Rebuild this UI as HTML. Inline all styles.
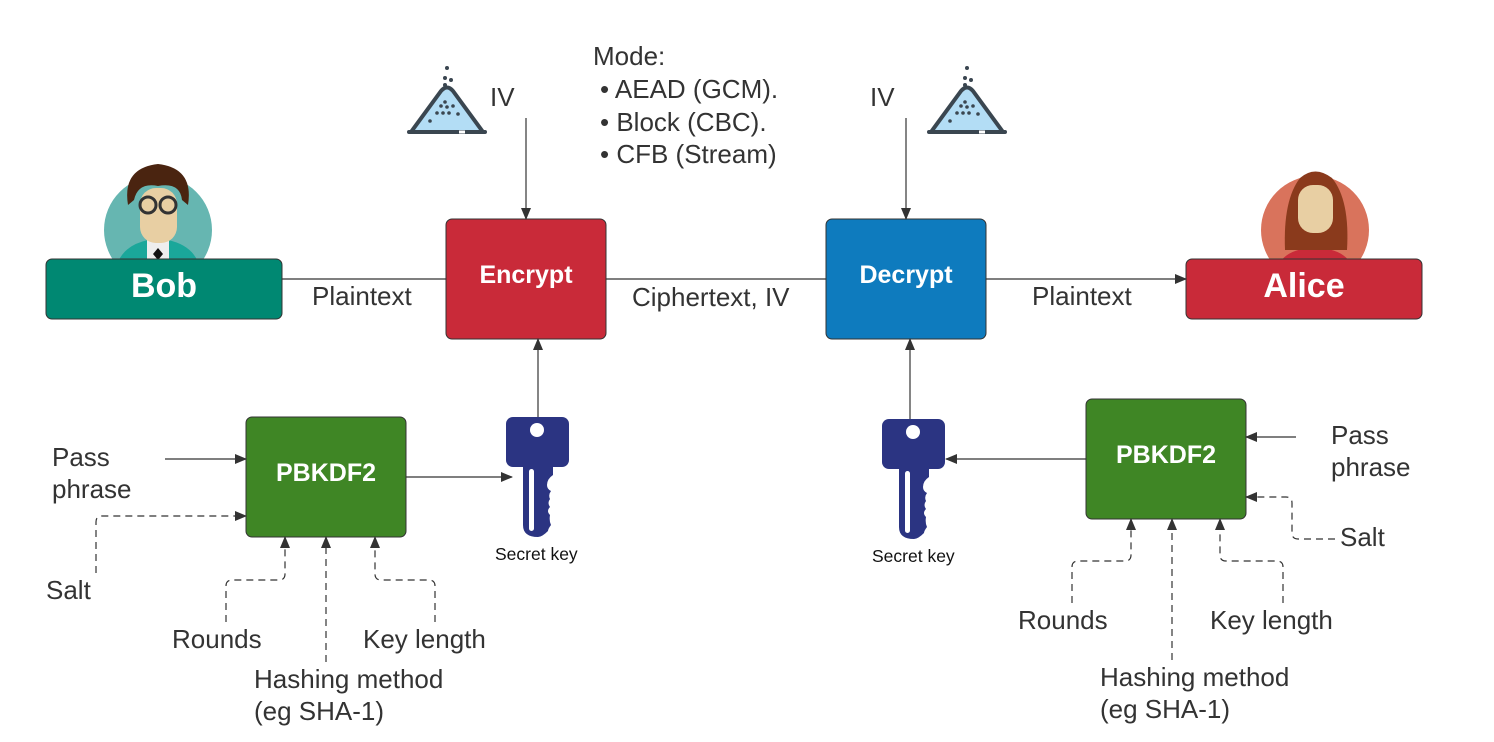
<!DOCTYPE html>
<html><head><meta charset="utf-8"><style>
html,body{margin:0;padding:0;background:#fff;}
svg{display:block;font-family:"Liberation Sans",sans-serif;}
</style></head><body>
<svg width="1494" height="742" viewBox="0 0 1494 742" xmlns="http://www.w3.org/2000/svg">
<defs>
<marker id="ah" markerWidth="12" markerHeight="10" refX="11" refY="5" orient="auto" markerUnits="userSpaceOnUse">
<path d="M0,0 L12,5 L0,10 z" fill="#333"/></marker>
<g id="key">
<rect x="0" y="0" width="63" height="50" rx="7" fill="#2B3482"/>
<path d="M17,46 H47 V58 Q41,62 41,68 Q41,72 45,74 Q42,78 44,82 Q41,86 44,90 Q40,94 44,98 Q43,104 45,108 Q42,112 42,114 Q36,120 32,120 Q17,120 17,108 Z" fill="#2B3482"/>
<circle cx="31" cy="13" r="7" fill="#fff"/>
<rect x="23" y="52" width="5" height="62" rx="2.5" fill="#fff"/>
</g>
<g id="pile">
<path d="M4,66 L34,25 Q40,18 46,25 L76,66" fill="#B3DDF5" stroke="#3A4650" stroke-width="4" stroke-linejoin="round"/>
<line x1="2" y1="66" x2="78" y2="66" stroke="#3A4650" stroke-width="4" stroke-linecap="round"/>
<line x1="52" y1="66" x2="58" y2="66" stroke="#fff" stroke-width="3"/>
<g fill="#3A4650"><circle cx="40" cy="2" r="2"/><circle cx="38" cy="12" r="2"/><circle cx="44" cy="14" r="2"/><circle cx="38" cy="19" r="2"/>
<circle cx="38" cy="36" r="1.8"/><circle cx="34" cy="40" r="1.8"/><circle cx="40" cy="41" r="1.8"/><circle cx="46" cy="40" r="1.8"/>
<circle cx="30" cy="47" r="1.8"/><circle cx="36" cy="47" r="1.8"/><circle cx="42" cy="47" r="1.8"/><circle cx="51" cy="48" r="1.8"/><circle cx="23" cy="55" r="1.8"/></g>
</g>
</defs>

<!-- Bob avatar -->
<circle cx="158" cy="230" r="54" fill="#66B6B1"/>
<path d="M118,262 Q125,245 148,240 L168,240 Q191,245 198,262 Z" fill="#1AA79A"/>
<rect x="147" y="238" width="22" height="24" fill="#EEE"/>
<path d="M158,248 l5,6 l-5,6 l-5,-6 z" fill="#111"/>
<rect x="140" y="188" width="37" height="55" rx="16" fill="#E8CFA3"/>
<path d="M128,205 Q122,168 158,164 Q194,168 188,205 L182,200 Q180,182 158,186 Q138,182 134,200 Z" fill="#4A2410"/>
<circle cx="148" cy="205" r="8" fill="none" stroke="#333" stroke-width="3"/>
<circle cx="168" cy="205" r="8" fill="none" stroke="#333" stroke-width="3"/>
<!-- Alice avatar -->
<circle cx="1315" cy="230" r="54" fill="#D9735C"/>
<path d="M1280,262 Q1290,248 1315,248 Q1340,248 1350,262 Z" fill="#C92A39"/>
<path d="M1285,250 Q1283,200 1300,178 Q1315,165 1332,178 Q1350,200 1347,250 Z" fill="#8A3A1C"/>
<rect x="1298" y="185" width="35" height="48" rx="15" fill="#E8CFA3"/>

<rect x="46" y="259" width="236" height="60" rx="6" fill="#008872" stroke="#333" stroke-width="1"/>
<text x="164" y="297" font-size="34" font-weight="bold" fill="#fff" text-anchor="middle">Bob</text>
<rect x="1186" y="259" width="236" height="60" rx="6" fill="#C92A39" stroke="#333" stroke-width="1"/>
<text x="1304" y="297" font-size="34" font-weight="bold" fill="#fff" text-anchor="middle">Alice</text>

<rect x="446" y="219" width="160" height="120" rx="6" fill="#C92A39" stroke="#333" stroke-width="1"/>
<text x="526" y="283" font-size="25" font-weight="bold" fill="#fff" text-anchor="middle">Encrypt</text>
<rect x="826" y="219" width="160" height="120" rx="6" fill="#0E7BBE" stroke="#333" stroke-width="1"/>
<text x="906" y="283" font-size="25" font-weight="bold" fill="#fff" text-anchor="middle">Decrypt</text>

<rect x="246" y="417" width="160" height="120" rx="6" fill="#3F8625" stroke="#333" stroke-width="1"/>
<text x="326" y="481" font-size="25" font-weight="bold" fill="#fff" text-anchor="middle">PBKDF2</text>
<rect x="1086" y="399" width="160" height="120" rx="6" fill="#3F8625" stroke="#333" stroke-width="1"/>
<text x="1166" y="463" font-size="25" font-weight="bold" fill="#fff" text-anchor="middle">PBKDF2</text>

<g stroke="#333" stroke-width="1.2" fill="none">
<line x1="282" y1="279" x2="446" y2="279"/>
<line x1="606" y1="279" x2="826" y2="279"/>
<line x1="986" y1="279" x2="1186" y2="279" marker-end="url(#ah)"/>
<line x1="526" y1="118" x2="526" y2="219" marker-end="url(#ah)"/>
<line x1="906" y1="118" x2="906" y2="219" marker-end="url(#ah)"/>
<line x1="538" y1="417" x2="538" y2="339" marker-end="url(#ah)"/>
<line x1="910" y1="419" x2="910" y2="339" marker-end="url(#ah)"/>
<line x1="406" y1="477" x2="512" y2="477" marker-end="url(#ah)"/>
<line x1="1086" y1="459" x2="946" y2="459" marker-end="url(#ah)"/>
<line x1="165" y1="459" x2="246" y2="459" marker-end="url(#ah)"/>
<line x1="1296" y1="437" x2="1246" y2="437" marker-end="url(#ah)"/>
</g>
<g stroke="#333" stroke-width="1.2" fill="none" stroke-dasharray="7,5">
<path d="M96,573 V522 Q96,516 102,516 H246" marker-end="url(#ah)"/>
<path d="M226,622 V586 Q226,580 232,580 H279 Q285,580 285,574 V537" marker-end="url(#ah)"/>
<path d="M326,662 V537" marker-end="url(#ah)"/>
<path d="M435,622 V586 Q435,580 429,580 H381 Q375,580 375,574 V537" marker-end="url(#ah)"/>
<path d="M1335,539 H1298 Q1292,539 1292,533 V503 Q1292,497 1286,497 H1246" marker-end="url(#ah)"/>
<path d="M1072,603 V567 Q1072,561 1078,561 H1125 Q1131,561 1131,555 V519" marker-end="url(#ah)"/>
<path d="M1172,660 V519" marker-end="url(#ah)"/>
<path d="M1283,603 V567 Q1283,561 1277,561 H1226 Q1220,561 1220,555 V519" marker-end="url(#ah)"/>
</g>

<use href="#key" x="506" y="417"/>
<use href="#key" x="882" y="419"/>
<use href="#pile" x="407" y="66"/>
<use href="#pile" x="927" y="66"/>

<g font-size="26" fill="#333">
<text x="490" y="106">IV</text>
<text x="870" y="106">IV</text>
<text x="593" y="65">Mode:</text>
<text x="600" y="98">• AEAD (GCM).</text>
<text x="600" y="131">• Block (CBC).</text>
<text x="600" y="163">• CFB (Stream)</text>
<text x="312" y="305">Plaintext</text>
<text x="632" y="306">Ciphertext, IV</text>
<text x="1032" y="305">Plaintext</text>
<text x="52" y="466">Pass</text>
<text x="52" y="498">phrase</text>
<text x="46" y="599">Salt</text>
<text x="172" y="648">Rounds</text>
<text x="363" y="648">Key length</text>
<text x="254" y="688">Hashing method</text>
<text x="254" y="720">(eg SHA-1)</text>
<text x="1331" y="444">Pass</text>
<text x="1331" y="476">phrase</text>
<text x="1340" y="546">Salt</text>
<text x="1018" y="629">Rounds</text>
<text x="1210" y="629">Key length</text>
<text x="1100" y="686">Hashing method</text>
<text x="1100" y="718">(eg SHA-1)</text>
</g>
<g font-size="17.5" fill="#111">
<text x="495" y="560">Secret key</text>
<text x="872" y="562">Secret key</text>
</g>
</svg>
</body></html>
